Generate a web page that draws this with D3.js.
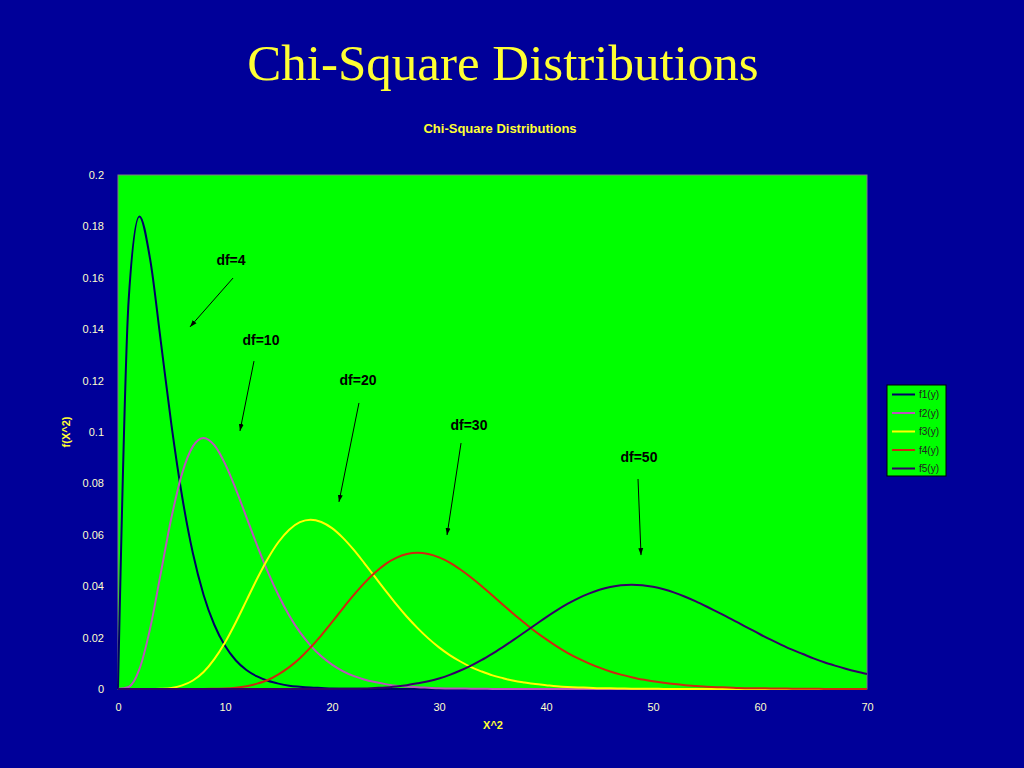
<!DOCTYPE html>
<html>
<head>
<meta charset="utf-8">
<script src="https://cdn.jsdelivr.net/npm/d3@7"></script>
<style>
  html, body { margin: 0; padding: 0; background: #000099; }
  svg { display: block; }
</style>
</head>
<body>
<svg id="chart" width="1024" height="768"></svg>
<script>
// x values (X^2), one point per unit
var xValues = [
  0, 1, 2, 3, 4, 5, 6, 7, 8, 9,
  10, 11, 12, 13, 14, 15, 16, 17, 18, 19,
  20, 21, 22, 23, 24, 25, 26, 27, 28, 29,
  30, 31, 32, 33, 34, 35, 36, 37, 38, 39,
  40, 41, 42, 43, 44, 45, 46, 47, 48, 49,
  50, 51, 52, 53, 54, 55, 56, 57, 58, 59,
  60, 61, 62, 63, 64, 65, 66, 67, 68, 69,
  70
];

// f1(y) df=4
var f1 = [
  0, 0.1516, 0.1839, 0.1673, 0.1353, 0.1026, 0.0747, 0.0528, 0.0366, 0.0250,
  0.0168, 0.0112, 0.0074, 0.0049, 0.0032, 0.0021, 0.0013, 0.0009, 0.0006, 0.0004,
  0.0002, 0.0001, 0.0001, 0, 0, 0, 0, 0, 0, 0,
  0, 0, 0, 0, 0, 0, 0, 0, 0, 0,
  0, 0, 0, 0, 0, 0, 0, 0, 0, 0,
  0, 0, 0, 0, 0, 0, 0, 0, 0, 0,
  0, 0, 0, 0, 0, 0, 0, 0, 0, 0,
  0
];

// f2(y) df=10
var f2 = [
  0, 0.0008, 0.0077, 0.0235, 0.0451, 0.0668, 0.0840, 0.0944, 0.0977, 0.0949,
  0.0877, 0.0779, 0.0669, 0.0559, 0.0456, 0.0365, 0.0286, 0.0221, 0.0169, 0.0127,
  0.0095, 0.0070, 0.0051, 0.0037, 0.0027, 0.0019, 0.0013, 0.0010, 0.0007, 0.0005,
  0.0003, 0.0002, 0.0002, 0.0001, 0.0001, 0, 0, 0, 0, 0,
  0, 0, 0, 0, 0, 0, 0, 0, 0, 0,
  0, 0, 0, 0, 0, 0, 0, 0, 0, 0,
  0, 0, 0, 0, 0, 0, 0, 0, 0, 0,
  0
];

// f3(y) df=20
var f3 = [
  0, 0, 0, 0, 0.0001, 0.0004, 0.0014, 0.0033, 0.0066, 0.0116,
  0.0181, 0.0259, 0.0344, 0.0429, 0.0507, 0.0572, 0.0620, 0.0649, 0.0659, 0.0650,
  0.0626, 0.0589, 0.0543, 0.0491, 0.0437, 0.0383, 0.0330, 0.0281, 0.0237, 0.0197,
  0.0162, 0.0132, 0.0107, 0.0085, 0.0068, 0.0053, 0.0042, 0.0032, 0.0025, 0.0019,
  0.0015, 0.0011, 0.0008, 0.0006, 0.0005, 0.0003, 0.0003, 0.0002, 0.0001, 0.0001,
  0.0001, 0, 0, 0, 0, 0, 0, 0, 0, 0,
  0, 0, 0, 0, 0, 0, 0, 0, 0, 0,
  0
];

// f4(y) df=30
var f4 = [
  0, 0, 0, 0, 0, 0, 0, 0, 0, 0.0001,
  0.0002, 0.0005, 0.0011, 0.0021, 0.0035, 0.0057, 0.0085, 0.0120, 0.0162, 0.0209,
  0.0260, 0.0313, 0.0364, 0.0411, 0.0452, 0.0486, 0.0510, 0.0525, 0.0530, 0.0525,
  0.0512, 0.0492, 0.0465, 0.0434, 0.0400, 0.0364, 0.0327, 0.0291, 0.0257, 0.0224,
  0.0194, 0.0166, 0.0141, 0.0119, 0.0100, 0.0083, 0.0068, 0.0056, 0.0046, 0.0037,
  0.0030, 0.0024, 0.0019, 0.0015, 0.0012, 0.0009, 0.0007, 0.0006, 0.0004, 0.0003,
  0.0003, 0.0002, 0.0002, 0.0001, 0.0001, 0.0001, 0, 0, 0, 0,
  0
];

// f5(y) df=50
var f5 = [
  0, 0, 0, 0, 0, 0, 0, 0, 0, 0,
  0, 0, 0, 0, 0, 0, 0, 0, 0, 0,
  0, 0.0001, 0.0001, 0.0002, 0.0004, 0.0006, 0.0010, 0.0015, 0.0022, 0.0030,
  0.0041, 0.0055, 0.0072, 0.0091, 0.0113, 0.0138, 0.0164, 0.0192, 0.0221, 0.0250,
  0.0279, 0.0306, 0.0331, 0.0353, 0.0371, 0.0386, 0.0397, 0.0404, 0.0406, 0.0404,
  0.0398, 0.0388, 0.0375, 0.0359, 0.0341, 0.0321, 0.0300, 0.0279, 0.0257, 0.0235,
  0.0213, 0.0192, 0.0172, 0.0153, 0.0136, 0.0119, 0.0104, 0.0091, 0.0079, 0.0068,
  0.0058
];

var seriesNames = ["f1(y)", "f2(y)", "f3(y)", "f4(y)", "f5(y)"];
var seriesValues = [f1, f2, f3, f4, f5];
var seriesColors = ["#000066", "#bb55bb", "#ffff00", "#cc2a10", "#330066"];

var xTicks = [0, 10, 20, 30, 40, 50, 60, 70];
var yTicks = [0, 0.02, 0.04, 0.06, 0.08, 0.1, 0.12, 0.14, 0.16, 0.18, 0.2];

// df labels with arrows, in data units: label point, arrow tail, arrow head
var notes = [
  { text: "df=4",  lx: 10.56, ly: 0.1669, x1: 10.75, y1: 0.1599, x2: 6.73,  y2: 0.1409 },
  { text: "df=10", lx: 13.36, ly: 0.1358, x1: 12.71, y1: 0.1276, x2: 11.40, y2: 0.1004 },
  { text: "df=20", lx: 22.43, ly: 0.1202, x1: 22.52, y1: 0.1113, x2: 20.65, y2: 0.0728 },
  { text: "df=30", lx: 32.80, ly: 0.1027, x1: 32.06, y1: 0.0957, x2: 30.75, y2: 0.0599 },
  { text: "df=50", lx: 48.69, ly: 0.0903, x1: 48.60, y1: 0.0817, x2: 48.88, y2: 0.0521 }
];

var svg = d3.select("#chart");
var plot = { left: 118, top: 175, right: 867, bottom: 689 };

var x = d3.scaleLinear().domain([0, 70]).range([plot.left, plot.right]);
var y = d3.scaleLinear().domain([0, 0.2]).range([plot.bottom, plot.top]);

svg.append("rect").attr("width", 1024).attr("height", 768).attr("fill", "#000099");

// slide title
svg.append("text")
  .attr("x", 503).attr("y", 80)
  .attr("text-anchor", "middle")
  .attr("font-family", "'Liberation Serif', 'Times New Roman', serif")
  .attr("font-size", 51)
  .attr("fill", "#ffff33")
  .text("Chi-Square Distributions");

// chart title
svg.append("text")
  .attr("x", 500).attr("y", 133)
  .attr("text-anchor", "middle")
  .attr("font-family", "'Liberation Sans', Arial, sans-serif")
  .attr("font-weight", "bold")
  .attr("font-size", 13)
  .attr("fill", "#ffff33")
  .text("Chi-Square Distributions");

// plot area
svg.append("rect")
  .attr("x", plot.left).attr("y", plot.top)
  .attr("width", plot.right - plot.left).attr("height", plot.bottom - plot.top)
  .attr("fill", "#00ff00")
  .attr("stroke", "#808080").attr("stroke-width", 1);

// axes
var xAxis = svg.append("g")
  .attr("transform", "translate(0," + plot.bottom + ")")
  .call(d3.axisBottom(x).tickValues(xTicks).tickSize(0).tickPadding(14));
var yAxis = svg.append("g")
  .attr("transform", "translate(" + plot.left + ",0)")
  .call(d3.axisLeft(y).tickValues(yTicks).tickSize(0).tickPadding(14)
    .tickFormat(function(d) { return String(+d.toFixed(2)); }));
[xAxis, yAxis].forEach(function(a) {
  a.select(".domain").remove();
  a.selectAll("text")
    .attr("font-family", "'Liberation Sans', Arial, sans-serif")
    .attr("font-size", 11)
    .attr("fill", "#ffffcc");
});

// axis titles
svg.append("text")
  .attr("x", 493).attr("y", 729)
  .attr("text-anchor", "middle")
  .attr("font-family", "'Liberation Sans', Arial, sans-serif")
  .attr("font-weight", "bold").attr("font-size", 11)
  .attr("fill", "#ffff33")
  .text("X^2");
svg.append("text")
  .attr("transform", "translate(70,432) rotate(-90)")
  .attr("text-anchor", "middle")
  .attr("font-family", "'Liberation Sans', Arial, sans-serif")
  .attr("font-weight", "bold").attr("font-size", 11)
  .attr("fill", "#ffff33")
  .text("f(X^2)");

// curves
var line = d3.line()
  .x(function(d) { return x(d[0]); })
  .y(function(d) { return y(d[1]); })
  .curve(d3.curveMonotoneX);

seriesValues.forEach(function(vals, i) {
  svg.append("path")
    .datum(xValues.map(function(xv, j) { return [xv, vals[j]]; }))
    .attr("d", line)
    .attr("fill", "none")
    .attr("stroke", seriesColors[i])
    .attr("stroke-width", 2);
});

// arrow head marker
svg.append("defs").append("marker")
  .attr("id", "arrow")
  .attr("viewBox", "0 0 10 10")
  .attr("refX", 10).attr("refY", 5)
  .attr("markerWidth", 7).attr("markerHeight", 7)
  .attr("orient", "auto")
  .append("path").attr("d", "M0,1.5 L10,5 L0,8.5 Z").attr("fill", "#000");

notes.forEach(function(n) {
  svg.append("text")
    .attr("x", x(n.lx)).attr("y", y(n.ly) + 5)
    .attr("text-anchor", "middle")
    .attr("font-family", "'Liberation Sans', Arial, sans-serif")
    .attr("font-weight", "bold").attr("font-size", 14)
    .attr("fill", "#000")
    .text(n.text);
  svg.append("line")
    .attr("x1", x(n.x1)).attr("y1", y(n.y1))
    .attr("x2", x(n.x2)).attr("y2", y(n.y2))
    .attr("stroke", "#000").attr("stroke-width", 1)
    .attr("marker-end", "url(#arrow)");
});

// legend
var legend = svg.append("g").attr("transform", "translate(887,385)");
legend.append("rect")
  .attr("width", 59).attr("height", 91)
  .attr("fill", "#00ff00").attr("stroke", "#000").attr("stroke-width", 1);
seriesNames.forEach(function(name, i) {
  var ly = 9.5 + i * 18.5;
  legend.append("line")
    .attr("x1", 5).attr("x2", 28).attr("y1", ly).attr("y2", ly)
    .attr("stroke", seriesColors[i]).attr("stroke-width", 2);
  legend.append("text")
    .attr("x", 32).attr("y", ly + 3.5)
    .attr("font-family", "'Liberation Sans', Arial, sans-serif")
    .attr("font-size", 10)
    .attr("fill", "#222")
    .text(name);
});
</script>
</body>
</html>
